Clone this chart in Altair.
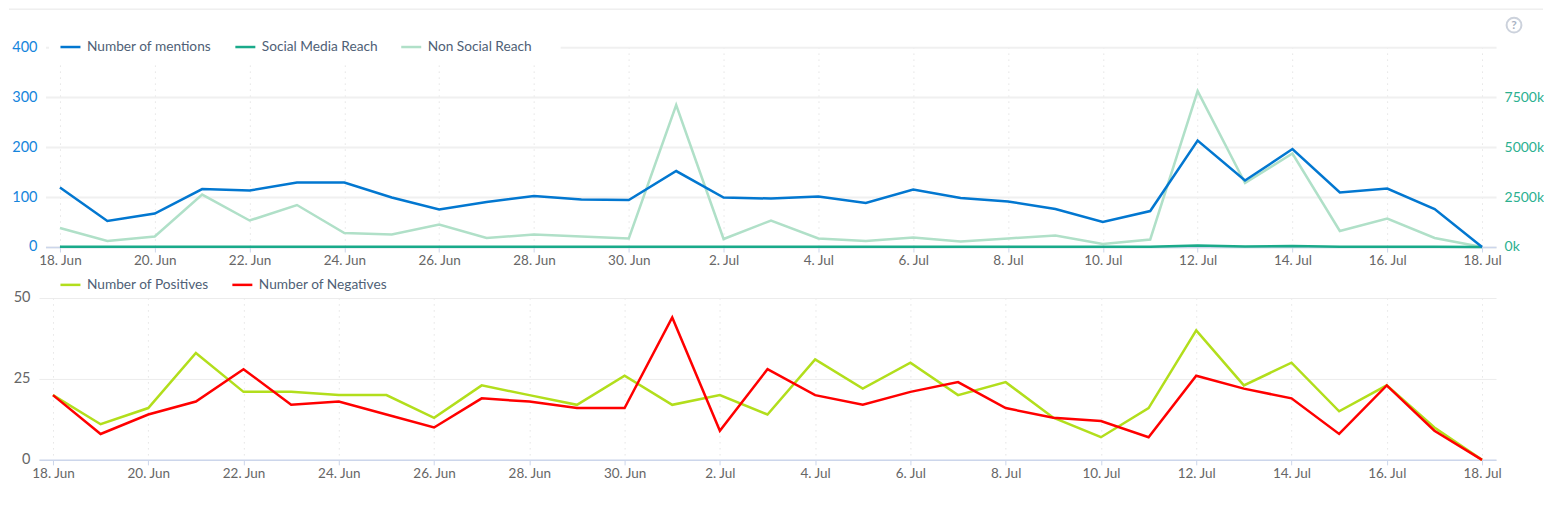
import altair as alt
import pandas as pd

dates = pd.date_range("2021-06-18", "2021-07-18", freq="D")
mentions = [119,52,67,116,113,129,129,99,75,90,102,95,94,152,99,97,101,88,115,98,91,76,50,72,213,133,196,109,117,76,0]
non_social = [950,300,525,2625,1325,2100,700,625,1125,450,625,525,425,7100,400,1325,425,300,475,275,425,575,150,375,7800,3200,4675,800,1425,450,0]
social = [10,10,10,12,10,10,12,10,10,10,10,10,10,14,10,10,10,10,10,10,10,10,8,12,75,20,50,15,12,10,0]
positives = [20,11,16,33,21,21,20,20,13,23,20,17,26,17,20,14,31,22,30,20,24,13,7,16,40,23,30,15,23,10,0]
negatives = [20,8,14,18,28,17,18,14,10,19,18,16,16,44,9,28,20,17,21,24,16,13,12,7,26,22,19,8,23,9,0]

top_names = ["Number of mentions", "Social Media Reach", "Non Social Reach"]
top_colors = ["#0277d0", "#1aaa8a", "#b0e0c8"]
bottom_names = ["Number of Positives", "Number of Negatives"]
bottom_colors = ["#b2de1c", "#ff0000"]
left_ticks = [0, 100, 200, 300, 400]
right_ticks = [0, 2500, 5000, 7500]
bottom_ticks = [0, 25, 50]

FONT = "Lato"
tick_dates = [alt.DateTime(year=d.year, month=d.month, date=d.day) for d in dates[::2]]
top_domain = [
    alt.DateTime(year=2021, month=6, date=17, hours=13, minutes=23),
    alt.DateTime(year=2021, month=7, date=18, hours=7, minutes=5),
]
bottom_domain = [
    alt.DateTime(year=2021, month=6, date=17, hours=16, minutes=57),
    alt.DateTime(year=2021, month=7, date=18, hours=7, minutes=3),
]


def long_frame(series):
    return pd.concat(
        [pd.DataFrame({"date": dates, "value": v, "series": n}) for n, v in series.items()],
        ignore_index=True,
    )


def x_enc(domain):
    return alt.X(
        "date:T",
        title=None,
        scale=alt.Scale(domain=domain, nice=False),
        axis=alt.Axis(
            values=tick_dates, format="%-d. %b", labelColor="#666666", labelFontSize=13.5,
            labelFont=FONT, labelOverlap=False, labelFlush=False, labelBound=False,
            labelPadding=2, tickColor="#ccd6eb", tickSize=5, domainColor="#ccd6eb", domainWidth=1.5,
            grid=True, gridColor="#d8d8d8", gridDash=[1, 5], gridWidth=1,
        ),
    )


def legend(x, y, fill=None, padding=0):
    args = dict(
        title=None, orient="none", direction="horizontal", legendX=x, legendY=y,
        symbolType="stroke", symbolSize=400, symbolStrokeWidth=2.5, labelFont=FONT,
        labelFontSize=13.7, labelColor="#4f5f76", labelOffset=5, columnPadding=18, padding=padding,
    )
    if fill:
        args["fillColor"] = fill
    return alt.Legend(**args)


top_color_scale = alt.Scale(domain=top_names, range=top_colors)
top_df = long_frame({top_names[0]: mentions})
reach_df = long_frame({top_names[2]: non_social, top_names[1]: social})

mentions_layer = alt.Chart(top_df).mark_line(strokeWidth=2.5).encode(
    x=x_enc(top_domain),
    y=alt.Y("value:Q", title=None, scale=alt.Scale(domain=[0, 400], nice=False),
            axis=alt.Axis(orient="left", values=left_ticks, domain=False, ticks=False,
                          labelColor="#1585dc", labelFont=FONT, labelFontSize=14.5, labelPadding=2,
                          grid=True, gridColor="#f0f0f0", gridWidth=2)),
    color=alt.Color("series:N", scale=top_color_scale, legend=legend(10, -22, "white", 10)),
)
reach_layer = alt.Chart(reach_df).mark_line(strokeWidth=2.5).encode(
    x=x_enc(top_domain),
    y=alt.Y("value:Q", title=None, scale=alt.Scale(domain=[0, 10000], nice=False),
            axis=alt.Axis(orient="right", values=right_ticks, domain=False, ticks=False,
                          labelExpr="datum.value + 'k'", labelColor="#2bb08f", labelFont=FONT,
                          labelFontSize=14, labelPadding=8, grid=False)),
    color=alt.Color("series:N", scale=top_color_scale, legend=legend(10, -22, "white", 10)),
    order=alt.Order("series:N", sort="ascending"),
)

top_rule = alt.Chart().mark_rule(color="#e6e6e6", strokeWidth=1).encode(
    x=alt.value(-30), x2=alt.value(1505), y=alt.value(-38))
left_mask = alt.Chart().mark_rule(color="white", strokeWidth=7).encode(
    x=alt.value(3.5), y=alt.value(-3), y2=alt.value(203))
legend_mask = alt.Chart().mark_rule(color="white", strokeWidth=4).encode(
    x=alt.value(500), x2=alt.value(522), y=alt.value(0))
icon_ring = alt.Chart().mark_point(filled=False, color="#b7bfce", size=220, strokeWidth=2).encode(
    x=alt.value(1476), y=alt.value(-22))
icon_mark = alt.Chart().mark_text(text="?", color="#a9b2c3", fontSize=12, font=FONT, fontWeight="bold").encode(
    x=alt.value(1476), y=alt.value(-22))

top = alt.layer(reach_layer, mentions_layer, left_mask, legend_mask, top_rule, icon_ring, icon_mark).resolve_scale(
    y="independent"
).properties(width=1458, height=200)

bottom_df = long_frame({bottom_names[0]: positives, bottom_names[1]: negatives})
bottom_line = alt.Chart(bottom_df).mark_line(strokeWidth=2.5).encode(
    x=x_enc(bottom_domain),
    y=alt.Y("value:Q", title=None, scale=alt.Scale(domain=[0, 50], nice=False),
            axis=alt.Axis(values=bottom_ticks, domain=False, ticks=False, labelColor="#666666",
                          labelFont=FONT, labelFontSize=14.5, labelPadding=9,
                          grid=True, gridColor="#ececec", gridWidth=1)),
    color=alt.Color("series:N", scale=alt.Scale(domain=bottom_names, range=bottom_colors),
                    legend=legend(20, -25)),
)
bottom = bottom_line.properties(width=1458, height=162)

chart = alt.vconcat(top, bottom, spacing=5, padding=0).resolve_scale(
    color="independent", x="independent"
).configure_view(stroke=None)

chart.save("out.html", embed_options={"renderer": "svg", "actions": False})
